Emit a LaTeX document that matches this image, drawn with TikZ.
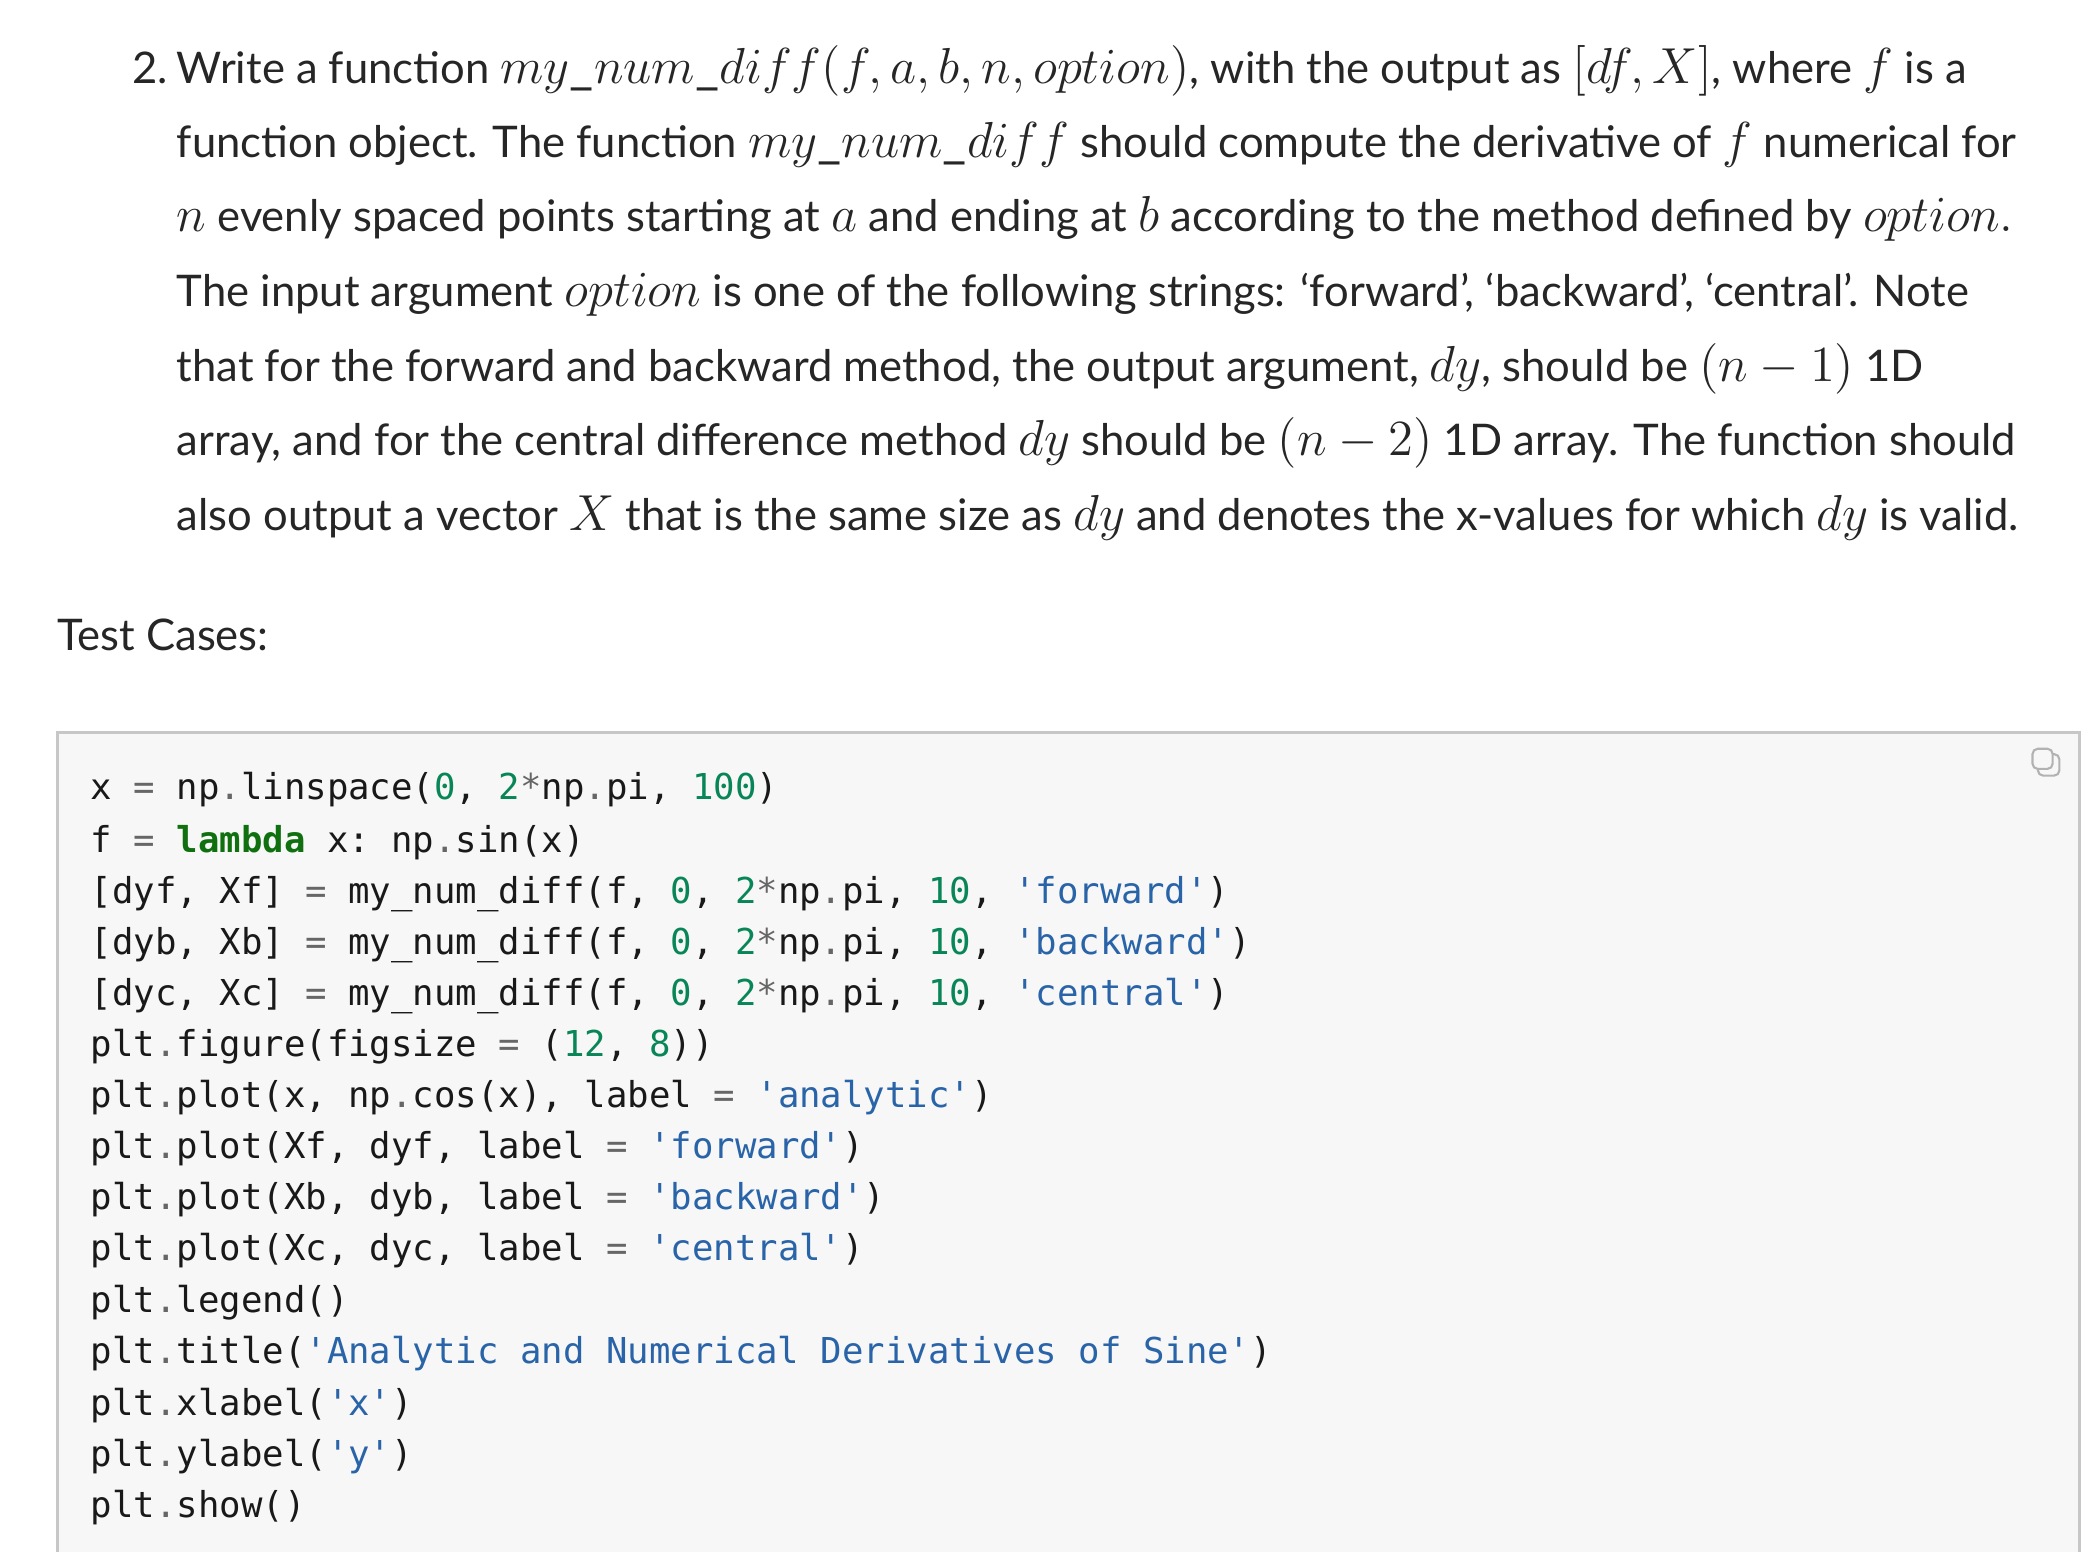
\documentclass[tikz,border=0pt]{standalone}
\usepackage{fontspec}
\setmainfont{Lato}
\setmonofont{DejaVu Sans Mono}
\definecolor{cnum}{HTML}{098658}
\definecolor{cstr}{HTML}{2A64A8}
\definecolor{ckw}{HTML}{107010}
\definecolor{cop}{HTML}{666666}
\newcommand{\cn}[1]{\textcolor{cnum}{#1}}
\newcommand{\cs}[1]{\textcolor{cstr}{#1}}
\newcommand{\co}[1]{\textcolor{cop}{#1}}
\newcommand{\mm}[1]{{\fontsize{15}{14}\selectfont$#1$}}
\tikzset{
  prose/.style={anchor=base west,inner sep=0,font=\fontsize{12.4}{14}\selectfont,text=black!85},
  code/.style={anchor=base west,inner sep=0,font=\ttfamily\fontsize{10.15}{12}\selectfont,text=black!90},
}
\begin{document}
\begin{tikzpicture}[x=0.01344cm,y=-0.01344cm]
\useasboundingbox (0,0) rectangle (1560,1154);
\fill[white] (0,0) rectangle (1560,1154);
\node[prose] (n2) at (98,62) {2.};
\node[prose] (l1) at (131,62) {Write a function \mm{my\_num\_diff(f,a,b,n,option)}, with the output as \mm{[df,X]}, where \mm{f} is a};
\node[prose] (l2) at (131,117) {function object. The function \mm{my\_num\_diff} should compute the derivative of \mm{f} numerical for};
\node[prose] (l3) at (131,172) {\mm{n} evenly spaced points starting at \mm{a} and ending at \mm{b} according to the method defined by \mm{option.}};
\node[prose] (l4) at (131,228) {The input argument \mm{option} is one of the following strings: ‘forward’, ‘backward’, ‘central’. Note};
\node[prose] (l5) at (131,284) {that for the forward and backward method, the output argument, \mm{dy}, should be \mm{(n-1)} 1D};
\node[prose] (l6) at (131,339) {array, and for the central difference method \mm{dy} should be \mm{(n-2)} 1D array. The function should};
\node[prose] (l7) at (131,395) {also output a vector \mm{X} that is the same size as \mm{dy} and denotes the x-values for which \mm{dy} is valid.};
\node[prose] (tc) at (42,484) {Test Cases:};
\filldraw[fill=black!3,draw=black!22,line width=0.8pt] (43,545) rectangle (1547,1170);
\draw[black!30,line width=0.6pt,rounded corners=1.5] (1516,561) rectangle (1532,577);
\draw[black!30,line width=0.6pt,rounded corners=1.5,fill=black!3] (1512,557) rectangle (1527,572);
\node[code] (c1) at (67,595) {x \co{=} np\co{.}linspace(\cn{0}, \cn{2}\co{*}np\co{.}pi, \cn{100})};
\node[code] (c2) at (67,634) {f \co{=} \textcolor{ckw}{\bfseries lambda} x: np\co{.}sin(x)};
\node[code] (c3) at (67,672) {[dyf, Xf] \co{=} my\_num\_diff(f, \cn{0}, \cn{2}\co{*}np\co{.}pi, \cn{10}, \cs{'forward'})};
\node[code] (c4) at (67,710) {[dyb, Xb] \co{=} my\_num\_diff(f, \cn{0}, \cn{2}\co{*}np\co{.}pi, \cn{10}, \cs{'backward'})};
\node[code] (c5) at (67,748) {[dyc, Xc] \co{=} my\_num\_diff(f, \cn{0}, \cn{2}\co{*}np\co{.}pi, \cn{10}, \cs{'central'})};
\node[code] (c6) at (67,786) {plt\co{.}figure(figsize \co{=} (\cn{12}, \cn{8}))};
\node[code] (c7) at (67,824) {plt\co{.}plot(x, np\co{.}cos(x), label \co{=} \cs{'analytic'})};
\node[code] (c8) at (67,862) {plt\co{.}plot(Xf, dyf, label \co{=} \cs{'forward'})};
\node[code] (c9) at (67,900) {plt\co{.}plot(Xb, dyb, label \co{=} \cs{'backward'})};
\node[code] (c10) at (67,938) {plt\co{.}plot(Xc, dyc, label \co{=} \cs{'central'})};
\node[code] (c11) at (67,976) {plt\co{.}legend()};
\node[code] (c12) at (67,1014) {plt\co{.}title(\cs{'Analytic and Numerical Derivatives of Sine'})};
\node[code] (c13) at (67,1053) {plt\co{.}xlabel(\cs{'x'})};
\node[code] (c14) at (67,1091) {plt\co{.}ylabel(\cs{'y'})};
\node[code] (c15) at (67,1129) {plt\co{.}show()};
\end{tikzpicture}
\end{document}
